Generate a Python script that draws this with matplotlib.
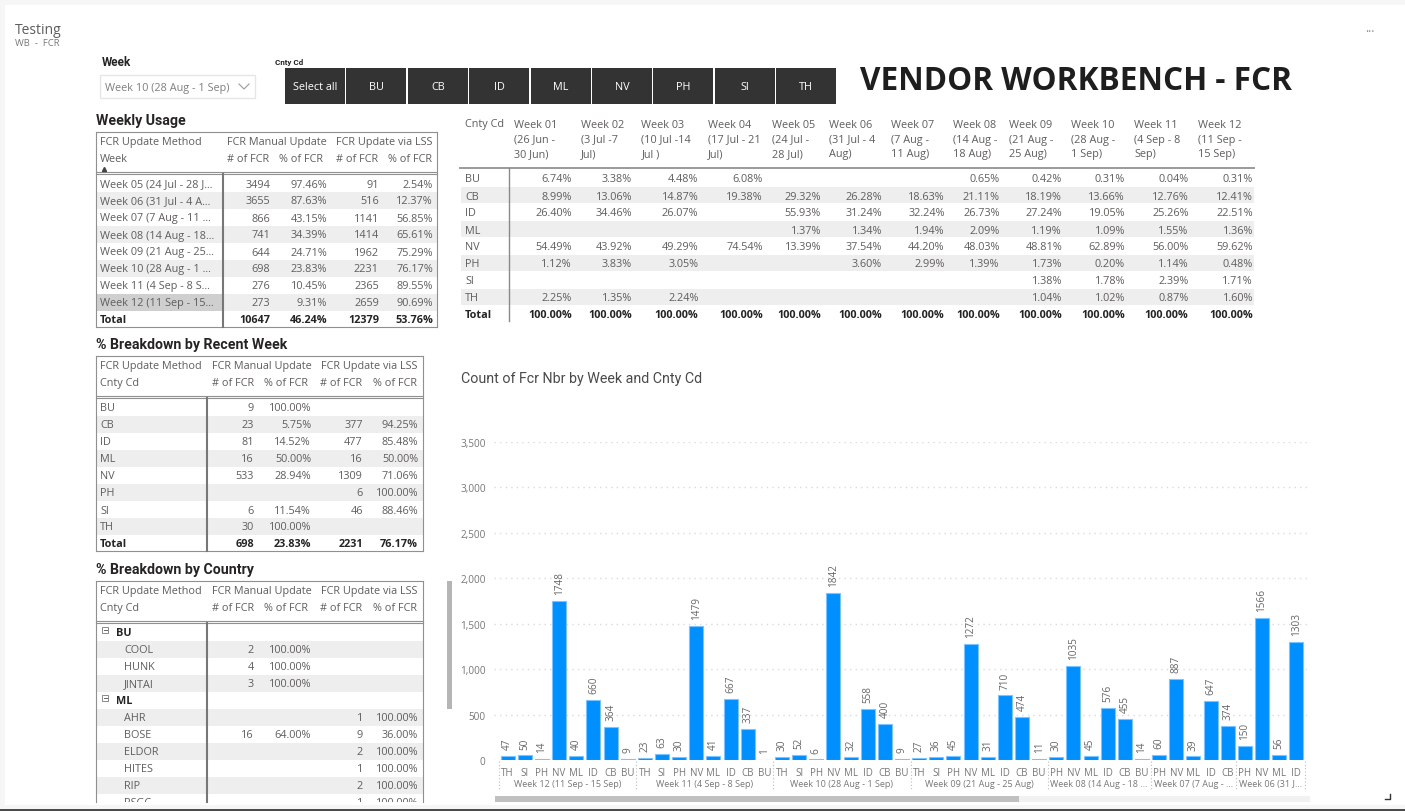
import matplotlib
matplotlib.use('Agg')
import matplotlib.pyplot as plt
from matplotlib.patches import Rectangle

plt.rcParams['font.family'] = ['Open Sans', 'DejaVu Sans']

# chart data, newest week first
week_names = ['Week 12 (11 Sep - 15 Sep)', 'Week 11 (4 Sep - 8 Sep)', 'Week 10 (28 Aug - 1 Sep)',
              'Week 09 (21 Aug - 25 Aug)', 'Week 08 (14 Aug - 18 ...', 'Week 07 (7 Aug - ...', 'Week 06 (31 J...']
week_codes = [
    ['TH', 'SI', 'PH', 'NV', 'ML', 'ID', 'CB', 'BU'],
    ['TH', 'SI', 'PH', 'NV', 'ML', 'ID', 'CB', 'BU'],
    ['TH', 'SI', 'PH', 'NV', 'ML', 'ID', 'CB', 'BU'],
    ['TH', 'SI', 'PH', 'NV', 'ML', 'ID', 'CB', 'BU'],
    ['PH', 'NV', 'ML', 'ID', 'CB', 'BU'],
    ['PH', 'NV', 'ML', 'ID', 'CB'],
    ['PH', 'NV', 'ML', 'ID'],
]
week_counts = [
    [47, 50, 14, 1748, 40, 660, 364, 9],
    [23, 63, 30, 1479, 41, 667, 337, 1],
    [30, 52, 6, 1842, 32, 558, 400, 9],
    [27, 36, 45, 1272, 31, 710, 474, 11],
    [30, 1035, 45, 576, 455, 14],
    [60, 887, 39, 647, 374],
    [150, 1566, 56, 1303],
]
y_ticks = [0, 500, 1000, 1500, 2000, 2500, 3000, 3500]

# weekly usage table
usage_rows = [
    ['Week 05 (24 Jul - 28 J...', '3494', '97.46%', '91', '2.54%'],
    ['Week 06 (31 Jul - 4 A...', '3655', '87.63%', '516', '12.37%'],
    ['Week 07 (7 Aug - 11 ...', '866', '43.15%', '1141', '56.85%'],
    ['Week 08 (14 Aug - 18...', '741', '34.39%', '1414', '65.61%'],
    ['Week 09 (21 Aug - 25...', '644', '24.71%', '1962', '75.29%'],
    ['Week 10 (28 Aug - 1 ...', '698', '23.83%', '2231', '76.17%'],
    ['Week 11 (4 Sep - 8 S...', '276', '10.45%', '2365', '89.55%'],
    ['Week 12 (11 Sep - 15...', '273', '9.31%', '2659', '90.69%'],
    ['Total', '10647', '46.24%', '12379', '53.76%'],
]
recent_rows = [
    ['BU', '9', '100.00%', '', ''],
    ['CB', '23', '5.75%', '377', '94.25%'],
    ['ID', '81', '14.52%', '477', '85.48%'],
    ['ML', '16', '50.00%', '16', '50.00%'],
    ['NV', '533', '28.94%', '1309', '71.06%'],
    ['PH', '', '', '6', '100.00%'],
    ['SI', '6', '11.54%', '46', '88.46%'],
    ['TH', '30', '100.00%', '', ''],
    ['Total', '698', '23.83%', '2231', '76.17%'],
]
country_rows = [
    ['BU', '', '', '', ''],
    ['COOL', '2', '100.00%', '', ''],
    ['HUNK', '4', '100.00%', '', ''],
    ['JINTAI', '3', '100.00%', '', ''],
    ['ML', '', '', '', ''],
    ['AHR', '', '', '1', '100.00%'],
    ['BOSE', '16', '64.00%', '9', '36.00%'],
    ['ELDOR', '', '', '2', '100.00%'],
    ['HITES', '', '', '1', '100.00%'],
    ['RIP', '', '', '2', '100.00%'],
    ['RSGC', '', '', '1', '100.00%'],
]
country_groups = ['BU', 'ML']

# share by week matrix
matrix_heads = [
    ['Week 01', '(26 Jun -', '30 Jun)'], ['Week 02', '(3 Jul -7', 'Jul)'], ['Week 03', '(10 Jul -14', 'Jul )'],
    ['Week 04', '(17 Jul - 21', 'Jul)'], ['Week 05', '(24 Jul -', '28 Jul)'], ['Week 06', '(31 Jul - 4', 'Aug)'],
    ['Week 07', '(7 Aug -', '11 Aug)'], ['Week 08', '(14 Aug -', '18 Aug)'], ['Week 09', '(21 Aug -', '25 Aug)'],
    ['Week 10', '(28 Aug -', '1 Sep)'], ['Week 11', '(4 Sep - 8', 'Sep)'], ['Week 12', '(11 Sep -', '15 Sep)'],
]
matrix_codes = ['BU', 'CB', 'ID', 'ML', 'NV', 'PH', 'SI', 'TH', 'Total']
matrix_vals = [
    ['6.74%', '3.38%', '4.48%', '6.08%', '', '', '', '0.65%', '0.42%', '0.31%', '0.04%', '0.31%'],
    ['8.99%', '13.06%', '14.87%', '19.38%', '29.32%', '26.28%', '18.63%', '21.11%', '18.19%', '13.66%', '12.76%', '12.41%'],
    ['26.40%', '34.46%', '26.07%', '', '55.93%', '31.24%', '32.24%', '26.73%', '27.24%', '19.05%', '25.26%', '22.51%'],
    ['', '', '', '', '1.37%', '1.34%', '1.94%', '2.09%', '1.19%', '1.09%', '1.55%', '1.36%'],
    ['54.49%', '43.92%', '49.29%', '74.54%', '13.39%', '37.54%', '44.20%', '48.03%', '48.81%', '62.89%', '56.00%', '59.62%'],
    ['1.12%', '3.83%', '3.05%', '', '', '3.60%', '2.99%', '1.39%', '1.73%', '0.20%', '1.14%', '0.48%'],
    ['', '', '', '', '', '', '', '', '1.38%', '1.78%', '2.39%', '1.71%'],
    ['2.25%', '1.35%', '2.24%', '', '', '', '', '', '1.04%', '1.02%', '0.87%', '1.60%'],
    ['100.00%'] * 12,
]
buttons = ['Select all', 'BU', 'CB', 'ID', 'ML', 'NV', 'PH', 'SI', 'TH']

TXT = '#605E5C'
DARK = '#252423'
BAND = '#EEEEEE'
FRAME = '#909090'
W, H = 1405, 812
FS = 7.8

fig = plt.figure(figsize=(W / 100, H / 100), dpi=100, facecolor='#F6F6F6')

# page layer in pixel coordinates
pg = fig.add_axes([0, 0, 1, 1])
pg.set_xlim(0, W)
pg.set_ylim(H, 0)
pg.axis('off')


def box(x0, y0, x1, y1, fc, ec='none', lw=0, z=1):
    pg.add_patch(Rectangle((x0, y0), x1 - x0, y1 - y0, facecolor=fc, edgecolor=ec, linewidth=lw, zorder=z))


def put(x, y, s, ha='left', color=TXT, size=FS, weight='normal', family=None, clip=None):
    # va center sits about a pixel high
    t = pg.text(x, y + 1, s, ha=ha, va='center', color=color, fontsize=size, fontweight=weight, zorder=5)
    if family:
        t.set_fontfamily(family)
    if clip is not None:
        t.set_clip_path(clip)
        t.set_clip_on(True)
    return t


def heading(x, y, s):
    put(x, y, s, color=DARK, size=10.2, weight='bold', family=['Roboto', 'DejaVu Sans'])


def method_table(rows, first, x1, vline, col_r, head_r, head_l, top, last_total=True, y_end=None):
    hb = top + 40
    row0 = hb + 11
    bottom = row0 + 17 * (len(rows) - 1) + 8 if y_end is None else y_end
    clip = Rectangle((90, top), 360, bottom - top, transform=pg.transData)
    for i in range(len(rows)):
        yc = row0 + 17 * i
        if i % 2 == 1 and not (last_total and i == len(rows) - 1):
            box(97, yc - 8, x1, min(yc + 8.5, bottom), BAND)
    put(100, top + 8.5, 'FCR Update Method')
    put(100, top + 25.5, first)
    put(head_l[0], top + 8.5, 'FCR Manual Update')
    put(head_l[1], top + 8.5, 'FCR Update via LSS')
    for x, s in zip(head_r, ['# of FCR', '% of FCR', '# of FCR', '% of FCR']):
        put(x, top + 25.5, s, ha='right')
    for i, row in enumerate(rows):
        yc = row0 + 17 * i
        total = last_total and i == len(rows) - 1
        c = DARK if total else TXT
        w = 'bold' if total else 'normal'
        put(100, yc, row[0], color=c, weight=w, clip=clip)
        for x, s in zip(col_r, row[1:]):
            put(x, yc, s, ha='right', color=c, weight=w, clip=clip)
    # frame and rules
    pg.plot([96, 96], [top, bottom], color=FRAME, lw=0.8, zorder=3)
    pg.plot([x1, x1], [top, bottom], color=FRAME, lw=0.8, zorder=3)
    pg.plot([96, x1], [top, top], color=FRAME, lw=0.8, zorder=3)
    pg.plot([96, x1], [hb, hb], color=FRAME, lw=0.8, zorder=3)
    pg.plot([96, x1], [hb + 2, hb + 2], color=FRAME, lw=0.8, zorder=3)
    if y_end is None:
        pg.plot([96, x1], [bottom, bottom], color=FRAME, lw=0.8, zorder=3)
    pg.plot([vline, vline], [hb + 2, bottom], color='#777777', lw=1.5, zorder=3)
    return row0


# canvas
box(5, 6, W, 806, 'white', z=0)
pg.plot([0, W], [811, 811], color='#2B2B2B', lw=1.2, zorder=0)

# header bits
put(15, 29, 'Testing', size=10)
put(15, 43, 'WB  -  FCR', size=6.8, color='#7A7A7A')
put(1370, 28, '...', ha='center', size=8.5, color='#8A8A8A')
put(102, 62, 'Week', color=DARK, size=8.5, weight='bold', family=['Roboto', 'DejaVu Sans'])
put(275, 61, 'Cnty Cd', color=DARK, size=5.8, weight='bold', family=['Roboto', 'DejaVu Sans'])
box(99.5, 76, 254.5, 98.5, 'white', ec='#E6E6E6', lw=1)
put(105, 88, 'Week 10 (28 Aug - 1 Sep)', color='#7F7F7F')
pg.plot([239, 244, 249], [85, 90, 85], color='#9A9A9A', lw=0.8, zorder=5)

for i, b in enumerate(buttons):
    x0 = 285 + 61.4 * i
    box(x0, 69, x0 + 60, 105, '#333333')
    put(x0 + 30, 87, b, ha='center', color='white')

put(1075.5, 80, 'VENDOR WORKBENCH - FCR', ha='center', color='#1E1E1E', size=22.7, weight='bold')

# left tables
heading(96, 120, 'Weekly Usage')
usage_y = method_table(usage_rows, 'Week', 437, 223, [270, 327, 379, 433], [269, 323, 378, 432], [227, 336], 133)
pg.plot([104], [169.5], marker='^', color='#444444', ms=3, zorder=5)
box(97, usage_y + 17 * 7 - 8, 222, usage_y + 17 * 7 + 8.5, '#CFCFCF', z=1.5)

heading(96, 344, '% Breakdown by Recent Week')
method_table(recent_rows, 'Cnty Cd', 423, 207, [254, 311, 363, 418], [254, 308, 362, 417], [212, 321], 357)

heading(96, 569, '% Breakdown by Country')
country_row0 = method_table([['', '', '', '', '']] * len(country_rows), 'Cnty Cd', 423, 207, [254, 311, 363, 418],
                            [254, 308, 362, 417], [212, 321], 582, last_total=False, y_end=803)
clip_c = Rectangle((90, 582), 360, 221, transform=pg.transData)
for i, row in enumerate(country_rows):
    yc = country_row0 + 17 * i
    if row[0] in country_groups:
        put(116, yc, row[0], color=DARK, weight='bold')
        box(102, yc - 5, 108, yc + 1, 'white', ec='#8A8A8A', lw=0.7, z=4)
        pg.plot([103.5, 106.5], [yc - 2, yc - 2], color='#666666', lw=0.7, zorder=5)
    else:
        put(124, yc, row[0], clip=clip_c)
    for x, s in zip([254, 311, 363, 418], row[1:]):
        put(x, yc, s, ha='right', clip=clip_c)
box(446.5, 582, 451.5, 710, '#B5B5B5')

# matrix
col_r = [572, 632, 698.5, 763, 821, 882, 944.6, 999.7, 1062, 1125, 1188.6, 1253]
col_l = [513.7, 580.6, 641.4, 708, 772, 829, 891, 953, 1009, 1071, 1134, 1198]
put(465, 124, 'Cnty Cd')
for x, head in zip(col_l, matrix_heads):
    for j, line in enumerate(head):
        put(x, 124 + 15 * j, line)
for i, code in enumerate(matrix_codes):
    yc = 179 + 17 * i
    total = code == 'Total'
    if i % 2 == 1 and not total:
        box(461, yc - 8.5, 1254, yc + 8, BAND)
    c = DARK if total else TXT
    w = 'bold' if total else 'normal'
    put(465, yc, code, color=c, weight=w)
    for x, s in zip(col_r, matrix_vals[i]):
        put(x, yc, s, ha='right', color=c, weight=w)
pg.plot([460, 1254], [169, 169], color='#9A9A9A', lw=1.4, zorder=3)
pg.plot([509, 509], [169, 322], color='#8A8A8A', lw=1, zorder=3)

# chart title and scrollbar
put(461, 378, 'Count of Fcr Nbr by Week and Cnty Cd', color='#4A4A4A', size=10.25, family=['Roboto', 'DejaVu Sans'])
box(495, 797, 1310, 803, '#F1F1F1')
box(495, 797, 1019, 803, '#C0C0C0')
pg.plot([1385, 1390, 1390], [799.5, 799.5, 794.5], color='#333333', lw=1, zorder=5)

# bar chart, flat list of bars built from the week arrays
codes = [c for wk in week_codes for c in wk]
counts = [v for wk in week_counts for v in wk]
xs = list(range(len(counts)))

ax_left, ax_right, ax_top, ax_bottom = 494, 1310, 443, 761
ax = fig.add_axes([ax_left / W, 1 - ax_bottom / H, (ax_right - ax_left) / W, (ax_bottom - ax_top) / H])
ax.patch.set_alpha(0)
ax.bar(xs, counts, width=0.82, color='#008FFF', edgecolor='#7CC4FF', linewidth=0.8, zorder=3)
ax.set_xlim(-0.8, 46.8)
ax.set_ylim(0, 3500)
ax.set_yticks(y_ticks)
ax.set_yticklabels([f'{v:,}' for v in y_ticks], fontsize=7.2, color='#777777')
ax.set_xticks(xs)
ax.set_xticklabels(codes, fontsize=7, color='#777777')
ax.tick_params(length=0)
ax.tick_params(axis='x', pad=5)
ax.tick_params(axis='y', pad=6)
ax.grid(axis='y', color='#DADADA', linestyle=(0, (1, 3)), linewidth=1, zorder=0)
for s in ax.spines.values():
    s.set_visible(False)

for x, v in zip(xs, counts):
    ax.annotate(str(v), (x, v), xytext=(0, 5), textcoords='offset points', ha='center', va='bottom',
                rotation=90, fontsize=7.2, color='#666666')

# week groups under the axis
start = 0
edges = [-0.5]
for name, wk in zip(week_names, week_codes):
    mid = start + (len(wk) - 1) / 2
    ax.annotate(name, (mid, 0), xycoords=('data', 'axes fraction'), xytext=(0, -17), textcoords='offset points',
                ha='center', va='center', fontsize=6.5, color='#777777')
    start += len(wk)
    edges.append(start - 0.5)
for e in edges:
    ax.plot([e, e], [-0.002, -0.094], transform=ax.get_xaxis_transform(), clip_on=False,
            color='#BDBDBD', linestyle=(0, (1, 2)), linewidth=0.8)

fig.savefig('out.png', dpi=100, facecolor=fig.get_facecolor())
